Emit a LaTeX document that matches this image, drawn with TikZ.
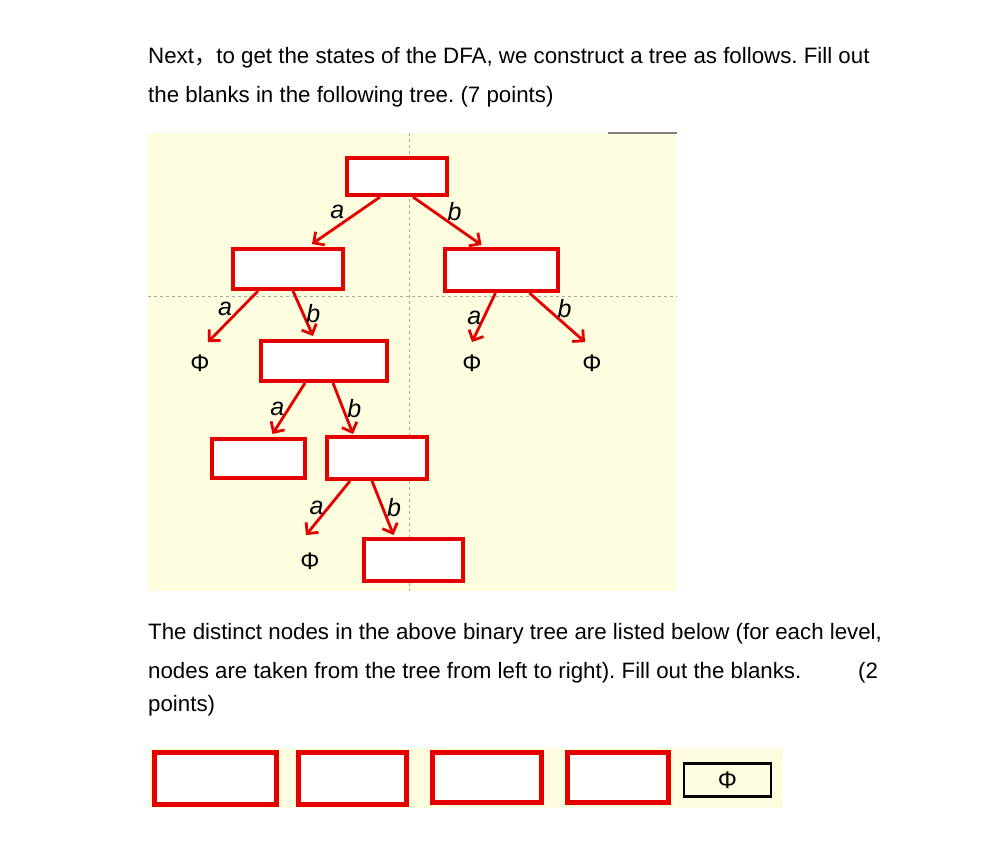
\documentclass[tikz,border=0pt]{standalone}
\usepackage{fontspec}
\setmainfont{Liberation Sans}
\newfontfamily\cjk{Noto Sans CJK SC}
\usetikzlibrary{arrows.meta, positioning}
\frenchspacing

\tikzset{
  blank/.style={draw=red!90!black, line width=4pt, fill=white, inner sep=0pt},
  edge/.style={draw=red!90!black, line width=2.8pt, -{Straight Barb[length=8pt,width=16pt]}},
  lbl/.style={font=\fontsize{25}{28}\selectfont\itshape, inner sep=1pt},
  txt/.style={anchor=west, inner sep=0pt, font=\fontsize{22.3}{26}\selectfont},
  phi/.style={font=\fontsize{24}{28}\selectfont}
}

\begin{document}
\begin{tikzpicture}[x=1pt, y=-1pt]
  \useasboundingbox (0,0) rectangle (986,848);

  % question text
  \node[txt] (q1) at (148,58) {Next{\cjk ，}to get the states of the DFA, we construct a tree as follows. Fill out};
  \node[txt] (q2) at (148,97) {the blanks in the following tree. (7 points)};

  % background of the tree
  \fill[yellow!12] (148,133) rectangle (677,591);
  \draw[gray, line width=2pt] (608,133) -- (677,133);
  \draw[gray!70, dashed, line width=0.6pt] (409,133) -- (409,591);
  \draw[gray!70, dashed, line width=0.6pt] (148,296) -- (677,296);

  % tree nodes
  \node[blank, minimum width=100pt, minimum height=37pt] (root) at (397,176.5) {};
  \node[blank, minimum width=110pt, minimum height=40pt] (ra) at (288,269) {};
  \node[blank, minimum width=113pt, minimum height=42pt] (rb) at (501.5,270) {};
  \node[blank, minimum width=126pt, minimum height=40pt] (rab) at (324,361) {};
  \node[blank, minimum width=93pt, minimum height=39pt] (raba) at (258.5,458.5) {};
  \node[blank, minimum width=100pt, minimum height=42pt] (rabb) at (377,458) {};
  \node[blank, minimum width=99pt, minimum height=42pt] (rabbb) at (413.5,560) {};
  \node[phi] (paa) at (200,363) {Φ};
  \node[phi] (pba) at (472,363) {Φ};
  \node[phi] (pbb) at (592,363) {Φ};
  \node[phi] (pabba) at (310,561) {Φ};

  % edges
  \draw[edge] ([xshift=-17pt]root.south) -- ([xshift=24pt,yshift=3pt]ra.north) node[lbl, midway, above left=-1pt] {a};
  \draw[edge] ([xshift=16pt]root.south) -- ([xshift=-20pt,yshift=2pt]rb.north) node[lbl, midway, above right=-3pt] {b};
  \draw[edge] ([xshift=-30pt]ra.south) -- ([xshift=8pt,yshift=9pt]paa.north) node[lbl, midway, above left=-2pt] {a};
  \draw[edge] ([xshift=5pt]ra.south) -- ([xshift=-11pt,yshift=3pt]rab.north) node[lbl, midway, right=1pt] {b};
  \draw[edge] ([xshift=-6pt]rb.south) -- ([yshift=9pt]pba.north) node[lbl, midway, left=0pt] {a};
  \draw[edge] ([xshift=28pt]rb.south) -- ([xshift=-7pt,yshift=9pt]pbb.north) node[lbl, midway, above right=-3pt] {b};
  \draw[edge] ([xshift=-19pt]rab.south) -- ([xshift=14pt,yshift=3pt]raba.north) node[lbl, midway, left=2pt] {a};
  \draw[edge] ([xshift=9pt]rab.south) -- ([xshift=-24pt,yshift=1pt]rabb.north) node[lbl, midway, right=2pt] {b};
  \draw[edge] ([xshift=-27pt]rabb.south) -- ([xshift=-4pt,yshift=14pt]pabba.north) node[lbl, midway, left=2pt] {a};
  \draw[edge] ([xshift=-5pt]rabb.south) -- ([xshift=-20pt,yshift=2pt]rabbb.north) node[lbl, midway, right=2pt] {b};

  % second question
  \node[txt] (q3) at (148,634) {The distinct nodes in the above binary tree are listed below (for each level,};
  \node[txt] (q4) at (148,673) {nodes are taken from the tree from left to right). Fill out the blanks.};
  \node[txt] (q4b) at (858,673) {(2};
  \node[txt] (q5) at (148,706) {points)};

  % list of distinct nodes
  \fill[yellow!12] (148,748) rectangle (783,808);
  \node[blank, line width=5pt, minimum width=122pt, minimum height=52pt] (s1) at (215,778) {};
  \node[blank, line width=5pt, minimum width=108pt, minimum height=52pt] (s2) at (352,778) {};
  \node[blank, line width=5pt, minimum width=109pt, minimum height=50pt] (s3) at (486.5,777) {};
  \node[blank, line width=5pt, minimum width=101pt, minimum height=50pt] (s4) at (617.5,777) {};
  \node[draw=black, line width=2.5pt, fill=yellow!12, minimum width=87pt, minimum height=33pt, inner sep=0pt, phi] (s5) at (727.5,780) {Φ};
\end{tikzpicture}
\end{document}
